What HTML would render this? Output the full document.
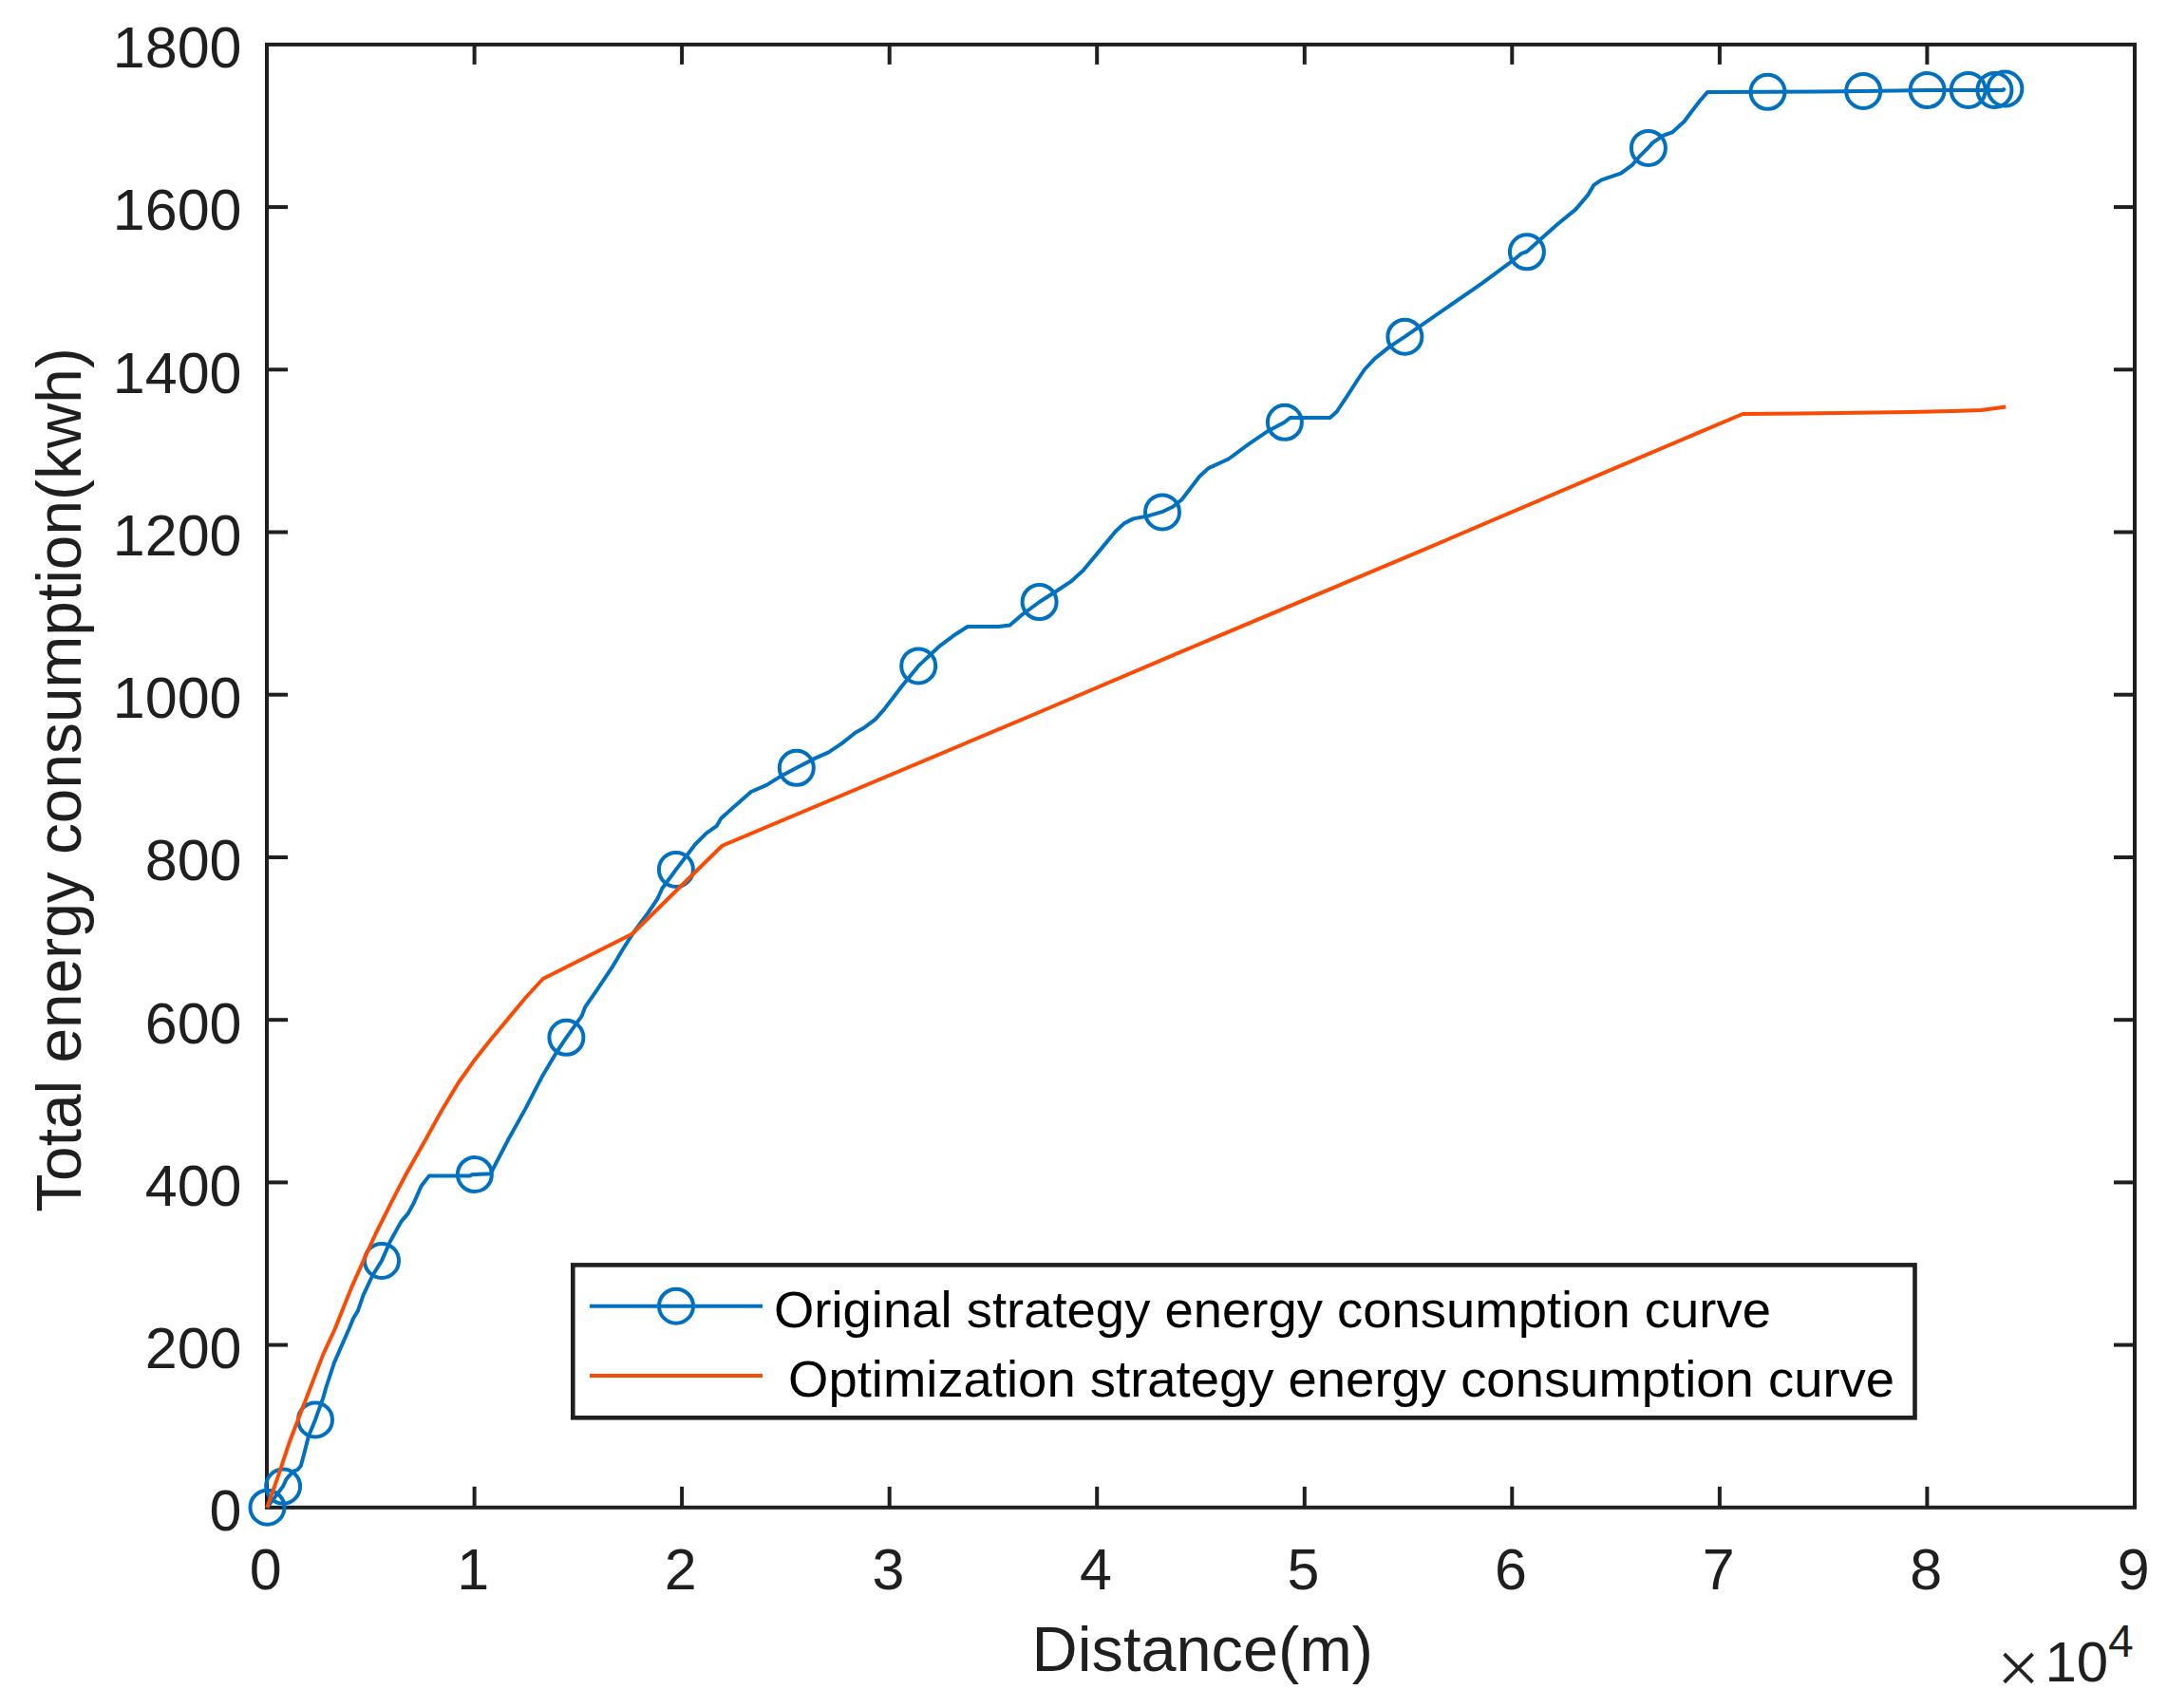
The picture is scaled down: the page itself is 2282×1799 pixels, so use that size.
<!DOCTYPE html>
<html lang="en"><head><meta charset="utf-8"><title>Energy consumption curves</title>
<style>
html,body{margin:0;padding:0;background:#fff;}
body{width:2282px;height:1799px;overflow:hidden;}
svg{display:block;}
text{font-family:"Liberation Sans",sans-serif;fill:#1f1f1f;}
.tk{font-size:61px;}
.lb{font-size:66.9px;}
.lg{font-size:54.45px;fill:#000;white-space:pre;}
</style></head><body>
<svg width="2282" height="1799" viewBox="0 0 2282 1799">
<rect x="0" y="0" width="2282" height="1799" fill="#ffffff"/>
<g stroke="#1f1f1f" stroke-width="4" fill="none" stroke-linecap="butt">
<line x1="499.6" y1="1587.8" x2="499.6" y2="1565.8"/>
<line x1="499.6" y1="46.9" x2="499.6" y2="67.9"/>
<line x1="718.1" y1="1587.8" x2="718.1" y2="1565.8"/>
<line x1="718.1" y1="46.9" x2="718.1" y2="67.9"/>
<line x1="936.7" y1="1587.8" x2="936.7" y2="1565.8"/>
<line x1="936.7" y1="46.9" x2="936.7" y2="67.9"/>
<line x1="1155.2" y1="1587.8" x2="1155.2" y2="1565.8"/>
<line x1="1155.2" y1="46.9" x2="1155.2" y2="67.9"/>
<line x1="1373.8" y1="1587.8" x2="1373.8" y2="1565.8"/>
<line x1="1373.8" y1="46.9" x2="1373.8" y2="67.9"/>
<line x1="1592.3" y1="1587.8" x2="1592.3" y2="1565.8"/>
<line x1="1592.3" y1="46.9" x2="1592.3" y2="67.9"/>
<line x1="1810.9" y1="1587.8" x2="1810.9" y2="1565.8"/>
<line x1="1810.9" y1="46.9" x2="1810.9" y2="67.9"/>
<line x1="2029.4" y1="1587.8" x2="2029.4" y2="1565.8"/>
<line x1="2029.4" y1="46.9" x2="2029.4" y2="67.9"/>
<line x1="281.0" y1="1416.6" x2="303.0" y2="1416.6"/>
<line x1="2248.0" y1="1416.6" x2="2226.0" y2="1416.6"/>
<line x1="281.0" y1="1245.4" x2="303.0" y2="1245.4"/>
<line x1="2248.0" y1="1245.4" x2="2226.0" y2="1245.4"/>
<line x1="281.0" y1="1074.2" x2="303.0" y2="1074.2"/>
<line x1="2248.0" y1="1074.2" x2="2226.0" y2="1074.2"/>
<line x1="281.0" y1="903.0" x2="303.0" y2="903.0"/>
<line x1="2248.0" y1="903.0" x2="2226.0" y2="903.0"/>
<line x1="281.0" y1="731.7" x2="303.0" y2="731.7"/>
<line x1="2248.0" y1="731.7" x2="2226.0" y2="731.7"/>
<line x1="281.0" y1="560.5" x2="303.0" y2="560.5"/>
<line x1="2248.0" y1="560.5" x2="2226.0" y2="560.5"/>
<line x1="281.0" y1="389.3" x2="303.0" y2="389.3"/>
<line x1="2248.0" y1="389.3" x2="2226.0" y2="389.3"/>
<line x1="281.0" y1="218.1" x2="303.0" y2="218.1"/>
<line x1="2248.0" y1="218.1" x2="2226.0" y2="218.1"/>
<rect x="281.0" y="46.9" width="1967.0" height="1540.9"/>
</g>
<polyline points="281.3,1587.8 298.0,1565.6 301.5,1558.0 308.6,1549.9 313.4,1548.0 316.8,1544.0 320.3,1531.1 325.0,1512.4 332.0,1495.4 340.2,1472.6 343.2,1462.0 352.0,1435.1 367.4,1400.0 372.1,1388.5 376.8,1380.9 382.7,1363.9 392.0,1344.0 402.0,1327.9 410.8,1307.7 422.5,1286.6 429.5,1278.4 435.4,1267.9 443.6,1249.2 451.8,1238.6 495.1,1238.4 497.0,1237.2 516.5,1236.3 535.4,1200.0 552.9,1168.6 570.5,1134.6 585.7,1108.9 596.4,1092.8 612.6,1070.2 616.1,1060.9 629.0,1042.1 645.4,1017.6 655.8,1000.0 666.8,982.6 683.2,960.4 692.6,946.3 697.3,935.8 711.9,915.9 732.4,889.0 744.1,877.3 754.6,870.2 759.3,862.0 771.0,851.5 790.9,834.0 807.3,826.9 821.4,818.1 838.8,808.8 858.5,798.6 872.6,792.3 886.7,782.9 900.7,771.7 910.0,766.5 921.8,757.6 931.1,747.1 949.9,722.5 967.2,701.4 989.7,680.3 1003.7,669.8 1019.0,660.0 1051.8,660.0 1063.5,658.5 1076.3,647.5 1094.6,634.0 1113.8,621.8 1127.9,612.4 1140.7,600.7 1158.3,579.6 1174.7,559.7 1184.1,551.1 1193.4,546.4 1207.5,543.8 1223.6,539.2 1235.1,533.8 1244.5,526.3 1263.2,501.8 1272.6,493.1 1293.7,483.5 1314.8,467.8 1335.8,453.7 1352.7,444.8 1358.6,440.0 1400.6,440.0 1407.8,433.5 1419.5,415.9 1430.0,399.5 1437.1,389.0 1447.6,377.9 1462.8,365.6 1479.4,354.7 1560.0,298.8 1592.2,275.2 1602.5,266.8 1607.9,265.0 1621.8,252.6 1639.8,236.5 1659.2,220.6 1672.0,205.6 1678.5,194.8 1686.2,189.7 1706.8,182.6 1718.4,174.2 1726.1,165.2 1735.9,155.4 1740.3,150.4 1751.9,142.7 1760.9,139.4 1773.8,127.7 1781.5,117.3 1790.5,105.8 1798.2,96.9 1861.5,96.8 1914.9,96.6 1962.2,95.9 2029.6,95.0 2072.7,94.9 2100.4,94.9 2109.3,94.9 2111.4,92.8" fill="none" stroke="#0070c0" stroke-width="4" stroke-linejoin="round"/>
<g fill="none" stroke="#0070c0" stroke-width="4">
<circle cx="281.5" cy="1587.7" r="18"/>
<circle cx="298.1" cy="1565.6" r="18"/>
<circle cx="332.0" cy="1495.4" r="18"/>
<circle cx="402.0" cy="1327.9" r="18"/>
<circle cx="499.9" cy="1237.0" r="18"/>
<circle cx="596.4" cy="1092.8" r="18"/>
<circle cx="711.9" cy="915.9" r="18"/>
<circle cx="838.8" cy="808.8" r="18"/>
<circle cx="967.2" cy="701.4" r="18"/>
<circle cx="1094.6" cy="634.0" r="18"/>
<circle cx="1224.0" cy="539.4" r="18"/>
<circle cx="1352.9" cy="444.8" r="18"/>
<circle cx="1479.4" cy="354.7" r="18"/>
<circle cx="1607.9" cy="265.3" r="18"/>
<circle cx="1735.9" cy="155.9" r="18"/>
<circle cx="1861.5" cy="96.8" r="18"/>
<circle cx="1962.2" cy="95.9" r="18"/>
<circle cx="2029.6" cy="95.0" r="18"/>
<circle cx="2072.7" cy="94.9" r="18"/>
<circle cx="2100.4" cy="94.9" r="18"/>
<circle cx="2111.4" cy="93.6" r="18"/>
</g>
<polyline points="281.2,1587.8 292.2,1556.9 305.1,1518.2 316.8,1487.8 328.5,1457.4 340.2,1426.9 352.6,1400.0 369.8,1356.9 385.0,1322.9 395.6,1299.5 412.0,1266.7 427.2,1237.5 448.4,1200.0 465.1,1169.8 482.7,1140.5 500.2,1115.9 517.8,1093.7 535.4,1072.6 552.9,1051.5 571.7,1031.0 665.7,983.8 760.5,890.8 1090.0,752.0 1240.0,688.1 1480.0,587.2 1700.0,493.3 1835.2,436.0 1895.4,435.6 1956.3,434.8 2010.7,433.9 2056.9,433.0 2086.4,432.0 2112.3,428.4" fill="none" stroke="#fa4b05" stroke-width="4" stroke-linejoin="round"/>
<text class="tk" x="279.7" y="1673.7" text-anchor="middle">0</text>
<text class="tk" x="498.3" y="1673.7" text-anchor="middle">1</text>
<text class="tk" x="716.8" y="1673.7" text-anchor="middle">2</text>
<text class="tk" x="935.4" y="1673.7" text-anchor="middle">3</text>
<text class="tk" x="1153.9" y="1673.7" text-anchor="middle">4</text>
<text class="tk" x="1372.5" y="1673.7" text-anchor="middle">5</text>
<text class="tk" x="1591.0" y="1673.7" text-anchor="middle">6</text>
<text class="tk" x="1809.6" y="1673.7" text-anchor="middle">7</text>
<text class="tk" x="2028.1" y="1673.7" text-anchor="middle">8</text>
<text class="tk" x="2246.7" y="1673.7" text-anchor="middle">9</text>
<text class="tk" x="254.5" y="1612.1" text-anchor="end">0</text>
<text class="tk" x="254.5" y="1440.9" text-anchor="end">200</text>
<text class="tk" x="254.5" y="1269.7" text-anchor="end">400</text>
<text class="tk" x="254.5" y="1098.5" text-anchor="end">600</text>
<text class="tk" x="254.5" y="927.3" text-anchor="end">800</text>
<text class="tk" x="254.5" y="756.0" text-anchor="end">1000</text>
<text class="tk" x="254.5" y="584.8" text-anchor="end">1200</text>
<text class="tk" x="254.5" y="413.6" text-anchor="end">1400</text>
<text class="tk" x="254.5" y="242.4" text-anchor="end">1600</text>
<text class="tk" x="254.5" y="71.2" text-anchor="end">1800</text>
<text x="2100" y="1776" style="font-family:'DejaVu Sans','Liberation Sans',sans-serif;font-weight:200;font-size:61px;stroke:#1f1f1f;stroke-width:0.7px">×</text>
<text class="tk" x="2153.4" y="1771" style="font-size:60px">10</text>
<text x="2220" y="1745" style="font-size:48px">4</text>
<text class="lb" x="1266.3" y="1760" text-anchor="middle" style="font-size:66.7px">Distance(m)</text>
<text class="lb" transform="translate(84.6,821.5) rotate(-90)" text-anchor="middle" style="font-size:65.8px">Total energy consumption(kwh)</text>
<rect x="603.3" y="1332.4" width="1413.2" height="160.9" fill="#ffffff" stroke="#1f1f1f" stroke-width="4.6"/>
<line x1="621" y1="1375.7" x2="803" y2="1375.7" stroke="#0070c0" stroke-width="4"/>
<circle cx="712" cy="1375.7" r="18" fill="none" stroke="#0070c0" stroke-width="4"/>
<line x1="621" y1="1449" x2="803" y2="1449" stroke="#fa4b05" stroke-width="4"/>
<text class="lg" x="815" y="1397.5" xml:space="preserve">Original strategy energy consumption curve</text>
<text class="lg" x="815" y="1470.5" xml:space="preserve"> Optimization strategy energy consumption curve</text>
</svg></body></html>
